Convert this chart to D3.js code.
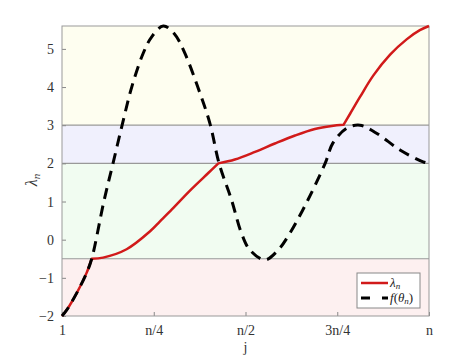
<!DOCTYPE html>
<html>
<head>
<meta charset="utf-8">
<script src="https://cdn.jsdelivr.net/npm/d3@7"></script>
<style>
  body { margin: 0; background: #fff; }
  text { font-family: "Liberation Serif", "DejaVu Serif", serif; }
</style>
</head>
<body>
<div id="chart"></div>
<script>
// j runs from 1 to n, stored as fraction t in [0,1]
var xTicks = [0, 0.25, 0.5, 0.75, 1];
var xTickLabels = ["1", "n/4", "n/2", "3n/4", "n"];
var yTicks = [-2, -1, 0, 1, 2, 3, 4, 5];

// shaded bands [from, to]
var bandLow = [-2, -0.5];
var bandMid = [-0.5, 2];
var bandBlue = [2, 3];
var bandTop = [3, 5.6];

// f(theta_n), dashed black
var fT = [0, 0.013, 0.04, 0.067, 0.081, 0.114, 0.139, 0.165, 0.19, 0.221, 0.244, 0.276, 0.306, 0.335, 0.37, 0.403, 0.428, 0.462, 0.489, 0.512, 0.553, 0.589, 0.621, 0.67, 0.717, 0.738, 0.776, 0.812, 0.857, 0.921, 0.984, 1];
var fY = [-2, -1.84, -1.4, -0.87, -0.5, 1.0, 2.0, 3.05, 4.0, 4.88, 5.31, 5.6, 5.4, 4.88, 4.0, 3.05, 2.0, 1.04, 0.17, -0.27, -0.53, -0.27, 0.17, 1.04, 2.0, 2.53, 2.92, 3.0, 2.79, 2.35, 2.04, 2.0];

// lambda_n, red, four pieces
var lamT1 = [0, 0.013, 0.04, 0.067, 0.081];
var lamY1 = [-2, -1.84, -1.4, -0.87, -0.5];
var lamT2 = [0.081, 0.112, 0.176, 0.24, 0.267, 0.3, 0.35, 0.4, 0.426];
var lamY2 = [-0.5, -0.47, -0.25, 0.22, 0.48, 0.8, 1.3, 1.76, 2.0];
var lamT3 = [0.426, 0.471, 0.526, 0.58, 0.635, 0.689, 0.735, 0.767];
var lamY3 = [2.0, 2.1, 2.30, 2.52, 2.73, 2.9, 2.98, 3.01];
var lamT4 = [0.767, 0.785, 0.812, 0.848, 0.894, 0.939, 0.975, 1];
var lamY4 = [3.01, 3.3, 3.74, 4.3, 4.85, 5.25, 5.49, 5.6];

var W = 474, H = 355;
var svg = d3.select("#chart").append("svg").attr("width", W).attr("height", H);

var x = d3.scaleLinear().domain([0, 1]).range([62, 429]);
var y = d3.scaleLinear().domain([-2, 5.6]).range([316, 26]);

var bands = [[bandLow, "#fdf0f0"], [bandMid, "#f1fcf1"], [bandBlue, "#f0f0fd"], [bandTop, "#fefef0"]];
svg.selectAll("rect.band").data(bands).enter().append("rect")
  .attr("class", "band")
  .attr("x", x(0)).attr("width", x(1) - x(0))
  .attr("y", function(d) { return y(d[0][1]); })
  .attr("height", function(d) { return y(d[0][0]) - y(d[0][1]); })
  .attr("fill", function(d) { return d[1]; });

svg.selectAll("line.edge").data([-0.5, 2, 3]).enter().append("line")
  .attr("class", "edge")
  .attr("x1", x(0)).attr("x2", x(1))
  .attr("y1", function(d) { return y(d); }).attr("y2", function(d) { return y(d); })
  .attr("stroke", "#999").attr("stroke-width", 1.2);

// axes
var xAxis = d3.axisBottom(x).tickValues(xTicks)
  .tickFormat(function(d, i) { return xTickLabels[i]; })
  .tickSizeInner(-4).tickSizeOuter(0).tickPadding(9);
var gx = svg.append("g").attr("transform", "translate(0," + y(-2) + ")").call(xAxis);

var yAxis = d3.axisLeft(y).tickValues(yTicks)
  .tickSizeInner(-4).tickSizeOuter(0).tickPadding(8);
var gy = svg.append("g").attr("transform", "translate(" + x(0) + ",0)").call(yAxis);

[gx, gy].forEach(function(g) {
  g.select(".domain").remove();
  g.selectAll(".tick line").attr("stroke", "#888");
  g.selectAll(".tick text").attr("fill", "#333").style("font-size", "14px");
});

// plot box
svg.append("rect").attr("x", x(0)).attr("y", y(5.6))
  .attr("width", x(1) - x(0)).attr("height", y(-2) - y(5.6))
  .attr("fill", "none").attr("stroke", "#999").attr("stroke-width", 1);

var line = d3.line().curve(d3.curveCatmullRom.alpha(0.5))
  .x(function(d) { return x(d[0]); }).y(function(d) { return y(d[1]); });
function pts(ts, ys) { return ts.map(function(t, i) { return [t, ys[i]]; }); }

var lamPath = line(pts(lamT1, lamY1)) + line(pts(lamT2, lamY2)).replace(/^M/, "L") +
  line(pts(lamT3, lamY3)).replace(/^M/, "L") + line(pts(lamT4, lamY4)).replace(/^M/, "L");
svg.append("path").attr("d", lamPath).attr("fill", "none")
  .attr("stroke", "#d11a1a").attr("stroke-width", 2.5).attr("stroke-linejoin", "round");

svg.append("path").attr("d", line(pts(fT, fY))).attr("fill", "none")
  .attr("stroke", "#000").attr("stroke-width", 3).attr("stroke-dasharray", "11,7");

// axis labels
svg.append("text").attr("x", x(0.5)).attr("y", 352).attr("text-anchor", "middle")
  .style("font-size", "14px").attr("fill", "#333").text("j");
svg.append("text").attr("transform", "translate(37,180) rotate(-90)").attr("text-anchor", "middle")
  .style("font-size", "16px").attr("fill", "#333")
  .html('<tspan font-style="italic">λ</tspan><tspan font-style="italic" font-size="11px" dy="3">n</tspan>');

// legend
var lg = svg.append("g").attr("transform", "translate(357,273)");
lg.append("rect").attr("width", 63).attr("height", 35).attr("fill", "#fff")
  .attr("stroke", "#888").attr("stroke-width", 1);
lg.append("line").attr("x1", 4).attr("x2", 31).attr("y1", 10).attr("y2", 10)
  .attr("stroke", "#d11a1a").attr("stroke-width", 2.5);
lg.append("line").attr("x1", 4).attr("x2", 31).attr("y1", 25).attr("y2", 25)
  .attr("stroke", "#000").attr("stroke-width", 3).attr("stroke-dasharray", "9,12");
lg.append("text").attr("x", 33).attr("y", 14).style("font-size", "13px").attr("fill", "#222")
  .html('<tspan font-style="italic">λ</tspan><tspan font-style="italic" font-size="9px" dy="2">n</tspan>');
lg.append("text").attr("x", 33).attr("y", 29).style("font-size", "13px").attr("fill", "#222")
  .html('<tspan font-style="italic">f</tspan>(<tspan font-style="italic">θ</tspan><tspan font-style="italic" font-size="9px" dy="2">n</tspan><tspan dy="-2">)</tspan>');
</script>
</body>
</html>
